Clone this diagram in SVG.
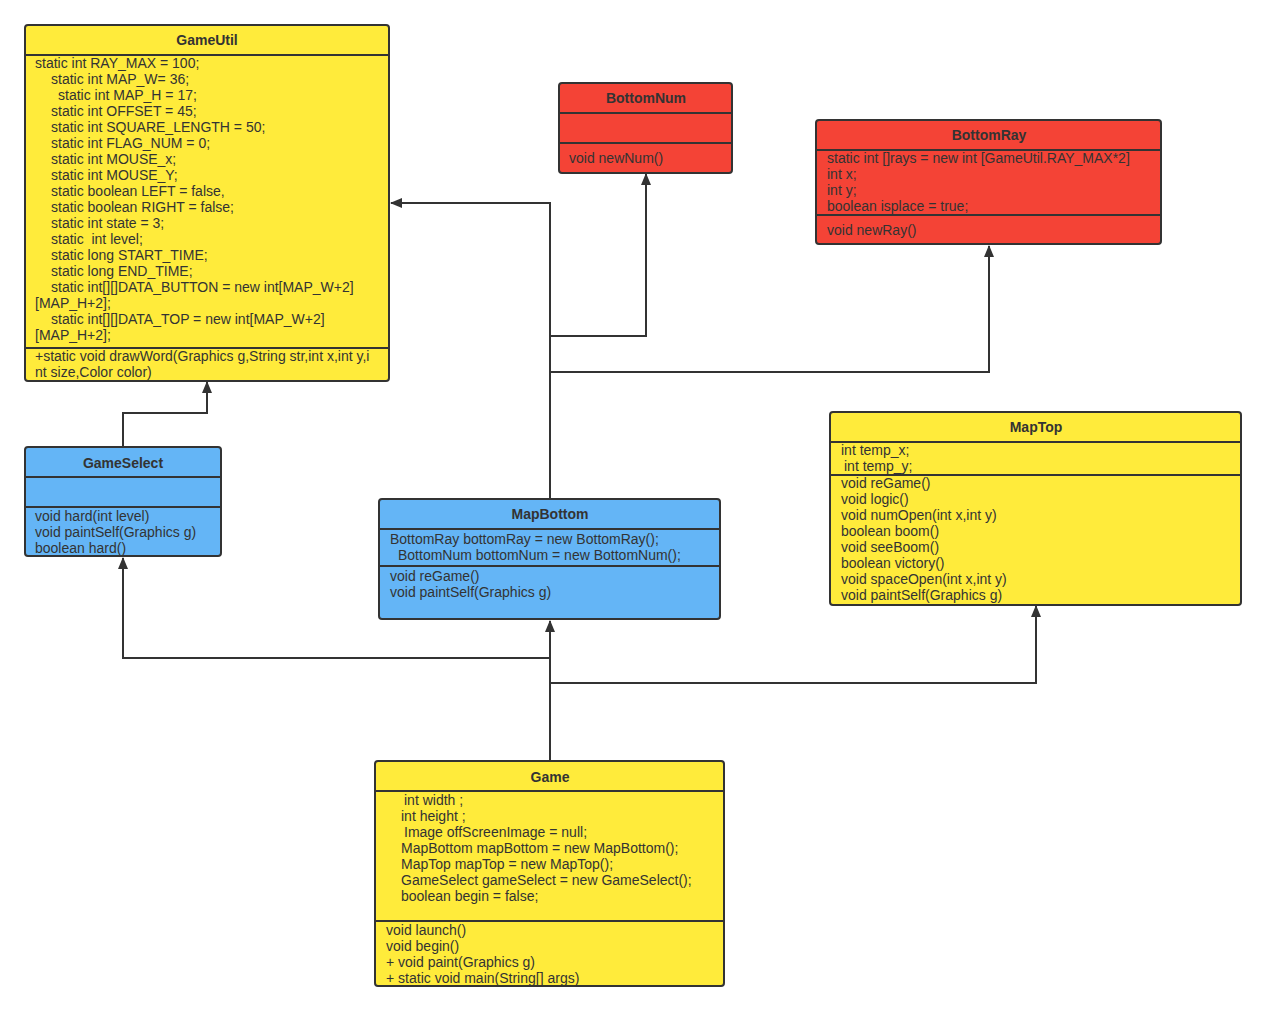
<svg xmlns="http://www.w3.org/2000/svg" width="1266" height="1011" viewBox="0 0 1266 1011">
<style>
.box{stroke:#333;stroke-width:2}
.y{fill:#FFEB3B}.r{fill:#F44336}.b{fill:#64B5F6}
.div{stroke:#333;stroke-width:2;fill:none}
text{font-family:"Liberation Sans","Noto Sans",Arial,sans-serif;font-size:14px;fill:#333}
.t{font-weight:bold;text-anchor:middle}
.c{stroke:#333;stroke-width:2;fill:none}
</style>
<defs>
<marker id="a" markerWidth="12" markerHeight="10" refX="11" refY="5" orient="auto" markerUnits="userSpaceOnUse">
<path d="M0,0 L12,5 L0,10 Z" fill="#333"/>
</marker>
</defs>
<rect width="1266" height="1011" fill="#fff"/>
<g id="connectors">
<polyline class="c" points="123,447 123,413 207,413 207,382" marker-end="url(#a)"/>
<polyline class="c" points="550,499 550,203 391,203" marker-end="url(#a)"/>
<polyline class="c" points="550,336 646,336 646,174" marker-end="url(#a)"/>
<polyline class="c" points="550,372 989,372 989,246" marker-end="url(#a)"/>
<polyline class="c" points="550,761 550,621" marker-end="url(#a)"/>
<polyline class="c" points="550,658 123,658 123,558" marker-end="url(#a)"/>
<polyline class="c" points="550,683 1036,683 1036,606" marker-end="url(#a)"/>
</g>
<g id="GameUtil">
<rect class="box y" x="25" y="25" width="364" height="356" rx="3"/>
<line class="div" x1="25" y1="55" x2="389" y2="55"/>
<line class="div" x1="25" y1="348" x2="389" y2="348"/>
<text class="t" x="207" y="45">GameUtil</text>
<text x="35" y="68">static int RAY_MAX = 100;</text>
<text x="51" y="84">static int MAP_W= 36;</text>
<text x="58" y="100">static int MAP_H = 17;</text>
<text x="51" y="116">static int OFFSET = 45;</text>
<text x="51" y="132">static int SQUARE_LENGTH = 50;</text>
<text x="51" y="148">static int FLAG_NUM = 0;</text>
<text x="51" y="164">static int MOUSE_x;</text>
<text x="51" y="180">static int MOUSE_Y;</text>
<text x="51" y="196">static boolean LEFT = false,</text>
<text x="51" y="212">static boolean RIGHT = false;</text>
<text x="51" y="228">static int state = 3;</text>
<text x="51" y="244" xml:space="preserve">static  int level;</text>
<text x="51" y="260">static long START_TIME;</text>
<text x="51" y="276">static long END_TIME;</text>
<text x="51" y="292">static int[][]DATA_BUTTON = new int[MAP_W+2]</text>
<text x="35" y="308">[MAP_H+2];</text>
<text x="51" y="324">static int[][]DATA_TOP = new int[MAP_W+2]</text>
<text x="35" y="340">[MAP_H+2];</text>
<text x="35" y="361">+static void drawWord(Graphics g,String str,int x,int y,i</text>
<text x="35" y="377">nt size,Color color)</text>
</g>
<g id="BottomNum">
<rect class="box r" x="559" y="83" width="173" height="90" rx="3"/>
<line class="div" x1="559" y1="113" x2="732" y2="113"/>
<line class="div" x1="559" y1="143" x2="732" y2="143"/>
<text class="t" x="646" y="103">BottomNum</text>
<text x="569" y="163">void newNum()</text>
</g>
<g id="BottomRay">
<rect class="box r" x="816" y="120" width="345" height="124" rx="3"/>
<line class="div" x1="816" y1="150" x2="1161" y2="150"/>
<line class="div" x1="816" y1="215" x2="1161" y2="215"/>
<text class="t" x="989" y="140">BottomRay</text>
<text x="827" y="163">static int []rays = new int [GameUtil.RAY_MAX*2]</text>
<text x="827" y="179">int x;</text>
<text x="827" y="195">int y;</text>
<text x="827" y="211">boolean isplace = true;</text>
<text x="827" y="235">void newRay()</text>
</g>
<g id="MapTop">
<rect class="box y" x="830" y="412" width="411" height="193" rx="3"/>
<line class="div" x1="830" y1="442" x2="1241" y2="442"/>
<line class="div" x1="830" y1="475" x2="1241" y2="475"/>
<text class="t" x="1036" y="432">MapTop</text>
<text x="841" y="455">int temp_x;</text>
<text x="844" y="471">int temp_y;</text>
<text x="841" y="488">void reGame()</text>
<text x="841" y="504">void logic()</text>
<text x="841" y="520">void numOpen(int x,int y)</text>
<text x="841" y="536">boolean boom()</text>
<text x="841" y="552">void seeBoom()</text>
<text x="841" y="568">boolean victory()</text>
<text x="841" y="584">void spaceOpen(int x,int y)</text>
<text x="841" y="600">void paintSelf(Graphics g)</text>
</g>
<g id="GameSelect">
<rect class="box b" x="25" y="447" width="196" height="109" rx="3"/>
<line class="div" x1="25" y1="477" x2="221" y2="477"/>
<line class="div" x1="25" y1="507" x2="221" y2="507"/>
<text class="t" x="123" y="468">GameSelect</text>
<text x="35" y="521">void hard(int level)</text>
<text x="35" y="537">void paintSelf(Graphics g)</text>
<text x="35" y="553">boolean hard()</text>
</g>
<g id="MapBottom">
<rect class="box b" x="379" y="499" width="341" height="120" rx="3"/>
<line class="div" x1="379" y1="529" x2="720" y2="529"/>
<line class="div" x1="379" y1="566" x2="720" y2="566"/>
<text class="t" x="550" y="519">MapBottom</text>
<text x="390" y="544">BottomRay bottomRay = new BottomRay();</text>
<text x="398" y="560">BottomNum bottomNum = new BottomNum();</text>
<text x="390" y="581">void reGame()</text>
<text x="390" y="597">void paintSelf(Graphics g)</text>
</g>
<g id="Game">
<rect class="box y" x="375" y="761" width="349" height="225" rx="3"/>
<line class="div" x1="375" y1="791" x2="724" y2="791"/>
<line class="div" x1="375" y1="921" x2="724" y2="921"/>
<text class="t" x="550" y="782">Game</text>
<text x="404" y="805">int width ;</text>
<text x="401" y="821">int height ;</text>
<text x="404" y="837">Image offScreenImage = null;</text>
<text x="401" y="853">MapBottom mapBottom = new MapBottom();</text>
<text x="401" y="869">MapTop mapTop = new MapTop();</text>
<text x="401" y="885">GameSelect gameSelect = new GameSelect();</text>
<text x="401" y="901">boolean begin = false;</text>
<text x="386" y="935">void launch()</text>
<text x="386" y="951">void begin()</text>
<text x="386" y="967">+ void paint(Graphics g)</text>
<text x="386" y="983">+ static void main(String[] args)</text>
</g>
</svg>
